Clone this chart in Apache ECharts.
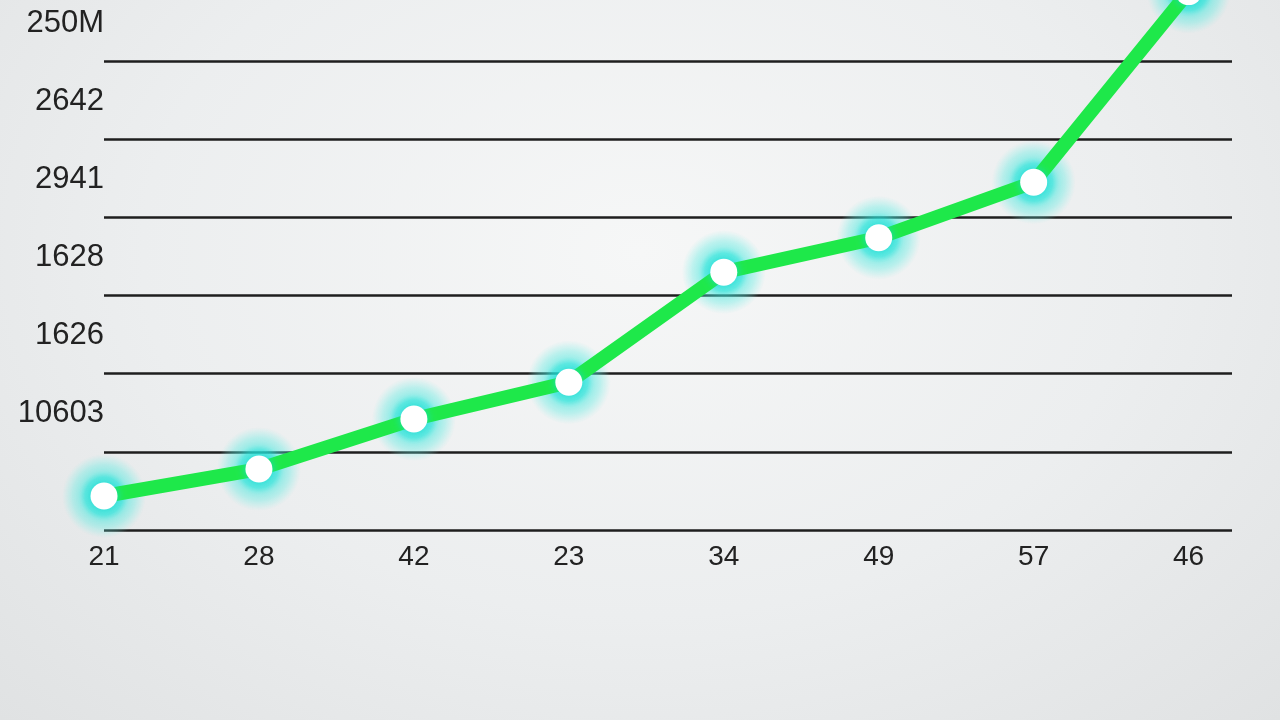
<!DOCTYPE html>
<html>
<head>
<meta charset="utf-8">
<script src="https://cdn.jsdelivr.net/npm/echarts@6/dist/echarts.min.js"></script>
<style>
  html, body { margin: 0; padding: 0; width: 1280px; height: 720px; overflow: hidden; }
  body { background: radial-gradient(ellipse at 50% 35%, #f6f7f7 0%, #eceeef 55%, #e0e2e3 100%); }
  #chart { position: absolute; left: 0; top: -17px; width: 1280px; height: 737px; }
</style>
</head>
<body>
<div id="chart"></div>
<script>
// Category labels along the x axis
const categories = ['21', '28', '42', '23', '34', '49', '57', '46'];
// Series values (in axis units)
const values = [0.435, 0.78, 1.42, 1.89, 3.30, 3.74, 4.45, 6.89];
// Y tick labels, for grid lines 1..6 (shown above each line)
const yTickLabels = ['10603', '1626', '1628', '2941', '2642', '250M'];

const points = values.map((v, i) => [i, v]);

const chart = echarts.init(document.getElementById('chart'), null, { renderer: 'canvas' });
const option = {
  backgroundColor: 'transparent',
  animation: false,
  grid: { left: 104, right: 48, top: 0, bottom: 190, containLabel: false },
  xAxis: {
    type: 'value',
    min: 0,
    max: 7.28,
    interval: 1,
    axisLine: { show: false },
    axisTick: { show: false },
    splitLine: { show: false },
    axisLabel: {
      show: true,
      margin: 13,
      fontSize: 28,
      color: '#222',
      fontFamily: 'Liberation Sans, Arial, sans-serif',
      formatter: function (v) {
        const i = Math.round(v);
        return (Math.abs(v - i) < 1e-6 && categories[i] !== undefined) ? categories[i] : '';
      }
    }
  },
  yAxis: {
    type: 'value',
    min: 0,
    max: 7,
    interval: 1,
    axisLine: { show: false },
    axisTick: { show: false },
    splitLine: { show: true, lineStyle: { color: '#1e1e1e', width: 2.5 } },
    axisLabel: {
      show: true,
      margin: 0,
      fontSize: 31,
      lineHeight: 76,
      color: '#222',
      fontFamily: 'Liberation Sans, Arial, sans-serif',
      verticalAlign: 'middle',
      formatter: function (v) {
        const i = Math.round(v);
        if (Math.abs(v - i) < 1e-6 && i >= 1 && i <= yTickLabels.length) return yTickLabels[i - 1] + '\n ';
        return '';
      }
    }
  },
  series: [
    {
      name: 'glow',
      type: 'scatter',
      data: points,
      symbolSize: 84,
      silent: true,
      z: 1,
      itemStyle: {
        color: {
          type: 'radial', x: 0.5, y: 0.5, r: 0.5,
          colorStops: [
            { offset: 0, color: 'rgba(30,225,215,1)' },
            { offset: 0.45, color: 'rgba(40,228,218,0.9)' },
            { offset: 0.6, color: 'rgba(70,232,222,0.6)' },
            { offset: 0.75, color: 'rgba(90,235,225,0.45)' },
            { offset: 0.88, color: 'rgba(120,238,230,0.25)' },
            { offset: 1, color: 'rgba(150,240,235,0)' }
          ]
        }
      }
    },
    {
      name: 'value',
      type: 'line',
      data: points,
      z: 3,
      clip: false,
      lineStyle: { color: '#1ee84a', width: 14, cap: 'round', join: 'round' },
      symbol: 'circle',
      symbolSize: 27,
      showSymbol: true,
      itemStyle: { color: '#ffffff', shadowBlur: 8, shadowColor: 'rgba(20,220,210,0.9)' },
      emphasis: { disabled: true }
    }
  ]
};
chart.setOption(option);
</script>
</body>
</html>
